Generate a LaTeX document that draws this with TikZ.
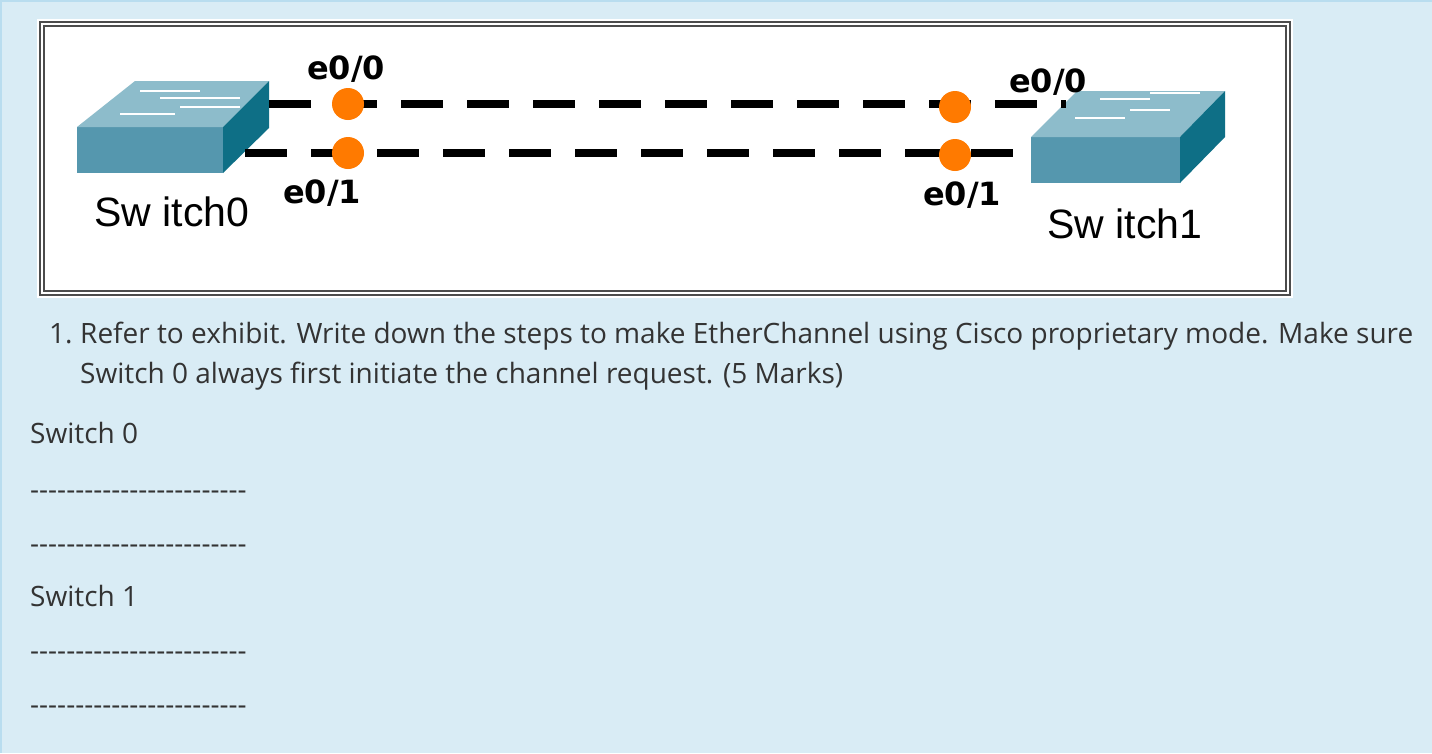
\documentclass[tikz,border=0pt]{standalone}
\usepackage{fontspec}
\setmainfont{Open Sans}
\newfontfamily\arialf{Liberation Sans}
\newfontfamily\dejaf{DejaVu Sans}
\definecolor{bgblue}{HTML}{D9ECF5}
\definecolor{edgeblue}{HTML}{B9DDEF}
\definecolor{txt}{HTML}{333333}
\definecolor{swfront}{HTML}{5597AE}
\definecolor{swtop}{HTML}{8DBCCB}
\definecolor{swside}{HTML}{0E6F86}
\definecolor{port}{HTML}{FF7A00}
\def\hy{-\kern0pt}
\def\dashline{\hy\hy\hy\hy\hy\hy\hy\hy\hy\hy\hy\hy\hy\hy\hy\hy\hy\hy\hy\hy\hy\hy\hy\hy}
\tikzset{
  lnk/.style={line width=8pt, dash pattern=on 42pt off 24pt},
  portdot/.style={circle, fill=port, minimum size=32pt, inner sep=0pt},
  plabel/.style={font=\dejaf\bfseries\fontsize{32}{36}\selectfont, text=black, inner sep=0pt},
  swlabel/.style={font=\arialf\fontsize{41}{45}\selectfont, text=black, inner sep=0pt},
  body/.style={font=\fontsize{28}{32}\selectfont, text=txt, anchor=base west, inner sep=0pt},
}
\begin{document}
\begin{tikzpicture}[x=1pt,y=-1pt]
\useasboundingbox (0,0) rectangle (1432,753);
\fill[bgblue] (0,0) rectangle (1432,753);
\draw[edgeblue, line width=2pt] (1,753) -- (1,1) -- (1432,1);
% exhibit
\fill[white] (37,19) rectangle (1293,298);
\draw[black!70, line width=1.2pt] (40,22) rectangle (1290,295);
\draw[black!70, line width=1.2pt] (44,26) rectangle (1286,291);
% switch0
\fill[swfront] (77,127) rectangle (223,173);
\fill[swtop] (77,127) -- (135,81) -- (269,81) -- (223,127) -- cycle;
\fill[swside] (223,127) -- (269,81) -- (269,128) -- (223,173) -- cycle;
% switch1
\fill[swfront] (1031,137) rectangle (1180,183);
\fill[swtop] (1031,137) -- (1077,91) -- (1225,91) -- (1180,137) -- cycle;
\fill[swside] (1180,137) -- (1225,91) -- (1225,137) -- (1180,183) -- cycle;
\begin{scope}[white, line width=1.5pt]
\draw (140,91)--(200,91); \draw (160,98)--(240,98);
\draw (120,114)--(175,114); \draw (180,107)--(240,107);
\draw (1100,99)--(1150,99); \draw (1150,93)--(1200,93);
\draw (1075,118)--(1125,118); \draw (1130,110)--(1170,110);
\end{scope}
% links
\coordinate (a0) at (269,104); \coordinate (b0) at (1066,104);
\coordinate (a1) at (245,153); \coordinate (b1) at (1032,153);
\draw[lnk] (a0) -- (b0);
\draw[lnk] (a1) -- (b1);
\node[portdot] (p00) at (348,104) {};
\node[portdot] (p01) at (348,153) {};
\node[portdot] (p10) at (955,107) {};
\node[portdot] (p11) at (955,155) {};
\node[plabel] (l00) at (346,69) {e0/0};
\node[plabel] (l01) at (322,193) {e0/1};
\node[plabel] (l10) at (1048,82) {e0/0};
\node[plabel] (l11) at (962,195) {e0/1};
\node[swlabel] (n0) at (172,212) {Sw itch0};
\node[swlabel] (n1) at (1125,224) {Sw itch1};
% text
\node[body] (q1) at (49,343) {1.};
\node[body] (q2) at (80,343) {Refer to exhibit. Write down the steps to make EtherChannel using Cisco proprietary mode. Make sure};
\node[body] (q3) at (80,383) {Switch 0 always first initiate the channel request. (5 Marks)};
\node[body] (s0) at (30,443) {Switch 0};
\node[body] (d1) at (30,499) {\dashline};
\node[body] (d2) at (30,553) {\dashline};
\node[body] (s1) at (30,606) {Switch 1};
\node[body] (d3) at (30,660) {\dashline};
\node[body] (d4) at (30,714) {\dashline};
\end{tikzpicture}
\end{document}
